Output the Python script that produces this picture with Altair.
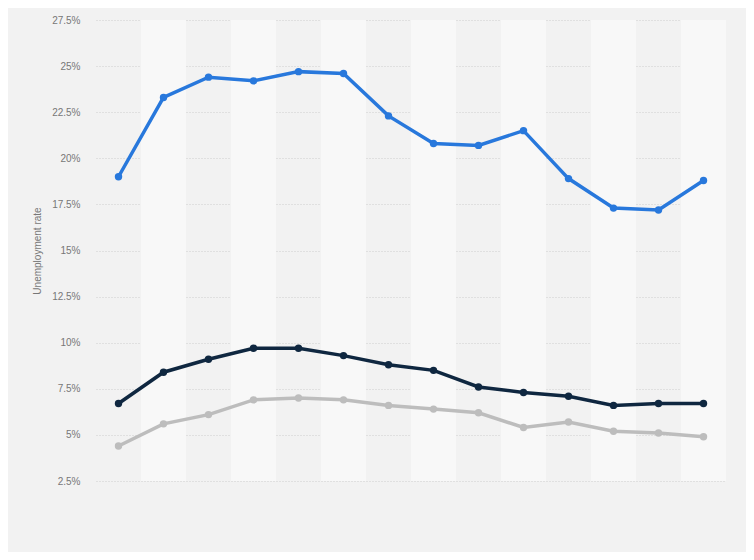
import altair as alt
import pandas as pd

years = ["2006", "2007", "2008", "2009", "2010", "2011", "2012", "2013",
         "2014", "2015", "2016", "2017", "2018", "2019"]
youth = [19.0, 23.3, 24.4, 24.2, 24.7, 24.6, 22.3, 20.8, 20.7, 21.5, 18.9, 17.3, 17.2, 18.8]
total = [6.7, 8.4, 9.1, 9.7, 9.7, 9.3, 8.8, 8.5, 7.6, 7.3, 7.1, 6.6, 6.7, 6.7]
adults = [4.4, 5.6, 6.1, 6.9, 7.0, 6.9, 6.6, 6.4, 6.2, 5.4, 5.7, 5.2, 5.1, 4.9]
series_names = ["15-24 years", "Total", "25 years and older"]
series_colors = ["#2878dc", "#0f2740", "#bdbdbd"]
y_ticks = [2.5, 5, 7.5, 10, 12.5, 15, 17.5, 20, 22.5, 25, 27.5]

rows = []
for name, vals in zip(series_names, [youth, total, adults]):
    for yr, v in zip(years, vals):
        rows.append({"year": yr, "series": name, "rate": v})
df = pd.DataFrame(rows)

bands = pd.DataFrame({"year": [y for i, y in enumerate(years) if i % 2 == 1]})

x_enc = alt.X("year:O", sort=years,
              scale=alt.Scale(paddingInner=0, paddingOuter=0),
              axis=alt.Axis(labels=False, ticks=False, domain=False, title=None, grid=False))

band_layer = alt.Chart(bands).mark_rect(color="#f8f8f8").encode(
    x=x_enc,
    y=alt.datum(27.5),
    y2=alt.datum(2.5),
)

y_enc = alt.Y("rate:Q",
              scale=alt.Scale(domain=[2.5, 27.5], nice=False, zero=False),
              axis=alt.Axis(values=y_ticks, labelExpr="datum.value + '%'",
                            title="Unemployment rate", titleFontWeight="normal",
                            titleFontSize=10, titleColor="#777777", titlePadding=9,
                            labelFontSize=10, labelColor="#777777", labelPadding=16,
                            labelFont="Liberation Sans", titleFont="Liberation Sans",
                            ticks=False, domain=False,
                            grid=True, gridColor="#cfcfcf", gridDash=[1, 2], gridWidth=1))

color_enc = alt.Color("series:N", sort=series_names,
                      scale=alt.Scale(domain=series_names, range=series_colors),
                      legend=None)

lines = alt.Chart(df).mark_line(strokeWidth=3.5).encode(
    x=x_enc, y=y_enc, color=color_enc, detail="series:N")
points = alt.Chart(df).mark_point(filled=True, size=55, opacity=1).encode(
    x=x_enc, y=y_enc, color=color_enc)

chart = alt.layer(band_layer, lines, points).properties(
    width=630, height=461,
    background="#f2f2f2",
    autosize=alt.AutoSizeParams(type="none"),
    padding={"left": 88, "top": 12, "right": 20, "bottom": 71},
).configure_view(stroke=None, fill="#f2f2f2")

chart.save("out.html", embed_options={"renderer": "svg", "actions": False})
